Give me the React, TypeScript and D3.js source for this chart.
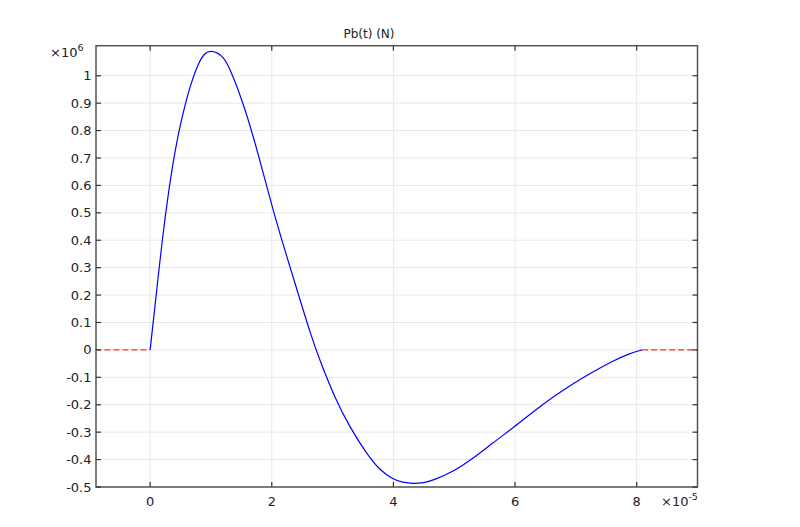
import React, { useRef, useEffect } from "react";
import * as d3 from "d3";

// time in units of 1e-5 s, force in units of 1e6 N
const curveT = [0, 0.099, 0.197, 0.313, 0.417, 0.516, 0.652, 0.789, 0.9, 0.998, 1.1, 1.2, 1.315, 1.557, 1.775, 2.005, 2.214, 2.433, 2.653, 2.79, 3.03, 3.28, 3.557, 3.775, 4.0, 4.15, 4.32, 4.5, 4.65, 4.98, 5.31, 5.64, 5.995, 6.3, 6.62, 6.95, 7.28, 7.61, 7.88, 8.09];
const curveP = [0, 0.198, 0.4, 0.595, 0.737, 0.842, 0.96, 1.045, 1.085, 1.091, 1.085, 1.069, 1.027, 0.885, 0.717, 0.522, 0.364, 0.206, 0.047, -0.038, -0.172, -0.281, -0.378, -0.439, -0.473, -0.483, -0.488, -0.485, -0.476, -0.445, -0.396, -0.338, -0.28, -0.225, -0.172, -0.123, -0.08, -0.04, -0.013, 0];
const beforeT = [-0.9, 0];
const afterT = [8.09, 9.0];
const xTicks = [0, 2, 4, 6, 8];
const yTicks = [-0.5, -0.4, -0.3, -0.2, -0.1, 0, 0.1, 0.2, 0.3, 0.4, 0.5, 0.6, 0.7, 0.8, 0.9, 1];

const App = () => {
  const ref = useRef(null);
  const width = 800;
  const height = 527;
  const m = { left: 96, right: 800 - 697.5, top: 45.7, bottom: 527 - 487 };

  useEffect(() => {
    d3.select(ref.current).selectAll("*").remove();
    const svg = d3.select(ref.current).attr("width", width).attr("height", height);
    const font = "DejaVu Sans, sans-serif";

    const x = d3.scaleLinear().domain([-0.89, 9.0]).range([m.left, width - m.right]);
    const y = d3.scaleLinear().domain([-0.5, 1.1095]).range([height - m.bottom, m.top]);

    // grid
    const grid = svg.append("g").attr("stroke", "#e8e8e8").attr("stroke-width", 1);
    xTicks.forEach((t) => {
      grid.append("line").attr("x1", x(t)).attr("x2", x(t)).attr("y1", m.top).attr("y2", height - m.bottom);
    });
    yTicks.forEach((t) => {
      grid.append("line").attr("x1", m.left).attr("x2", width - m.right).attr("y1", y(t)).attr("y2", y(t));
    });

    // data
    const pts: [number, number][] = curveT.map((t, i) => [t, curveP[i]]);
    const straight = d3
      .line<[number, number]>()
      .x((d) => x(d[0]))
      .y((d) => y(d[1]));
    const smooth = d3
      .line<[number, number]>()
      .x((d) => x(d[0]))
      .y((d) => y(d[1]))
      .curve(d3.curveBasis);

    [beforeT, afterT].forEach((seg) => {
      svg
        .append("path")
        .datum(seg.map((t) => [t, 0] as [number, number]))
        .attr("d", straight)
        .attr("fill", "none")
        .attr("stroke", "#ff3030")
        .attr("stroke-width", 1.2)
        .attr("stroke-dasharray", "6,3");
    });
    svg
      .append("path")
      .datum(pts)
      .attr("d", smooth)
      .attr("fill", "none")
      .attr("stroke", "#0000ff")
      .attr("stroke-width", 1.2);

    // frame
    svg
      .append("rect")
      .attr("x", m.left)
      .attr("y", m.top)
      .attr("width", width - m.left - m.right)
      .attr("height", height - m.top - m.bottom)
      .attr("fill", "none")
      .attr("stroke", "#555")
      .attr("stroke-width", 1.5);

    // ticks, pointing inward on all four sides
    const tk = svg.append("g").attr("stroke", "#333").attr("stroke-width", 1.2);
    xTicks.forEach((t) => {
      tk.append("line").attr("x1", x(t)).attr("x2", x(t)).attr("y1", height - m.bottom).attr("y2", height - m.bottom - 5);
      tk.append("line").attr("x1", x(t)).attr("x2", x(t)).attr("y1", m.top).attr("y2", m.top + 5);
    });
    yTicks.forEach((t) => {
      tk.append("line").attr("x1", m.left).attr("x2", m.left + 5).attr("y1", y(t)).attr("y2", y(t));
      tk.append("line").attr("x1", width - m.right).attr("x2", width - m.right - 5).attr("y1", y(t)).attr("y2", y(t));
    });

    // tick labels
    svg
      .append("g")
      .selectAll("text")
      .data(yTicks)
      .enter()
      .append("text")
      .attr("x", m.left - 4.5)
      .attr("y", (d) => y(d))
      .attr("dy", "0.35em")
      .attr("text-anchor", "end")
      .attr("font-family", font)
      .attr("font-size", 13)
      .attr("fill", "#222")
      .text((d) => String(+d.toFixed(1)));
    svg
      .append("g")
      .selectAll("text")
      .data(xTicks)
      .enter()
      .append("text")
      .attr("x", (d) => x(d))
      .attr("y", height - m.bottom + 18.5)
      .attr("text-anchor", "middle")
      .attr("font-family", font)
      .attr("font-size", 13)
      .attr("fill", "#222")
      .text((d) => d);

    // exponent labels
    const e6 = svg.append("text").attr("x", 50).attr("y", 57).attr("font-family", font).attr("font-size", 13).attr("fill", "#222");
    e6.append("tspan").text("×10");
    e6.append("tspan").attr("dy", -6).attr("font-size", 9.5).text("6");
    const e5 = svg.append("text").attr("x", 661).attr("y", 505.5).attr("font-family", font).attr("font-size", 13).attr("fill", "#222");
    e5.append("tspan").text("×10");
    e5.append("tspan").attr("dy", -6).attr("font-size", 9.5).text("-5");

    // title
    svg
      .append("text")
      .attr("x", 369)
      .attr("y", 38)
      .attr("text-anchor", "middle")
      .attr("font-family", font)
      .attr("font-size", 12)
      .attr("fill", "#222")
      .text("Pb(t) (N)");
  }, []);

  return (
    <div style={{ margin: -8 }}>
      <svg ref={ref} style={{ display: "block" }}></svg>
    </div>
  );
};

export default App;
